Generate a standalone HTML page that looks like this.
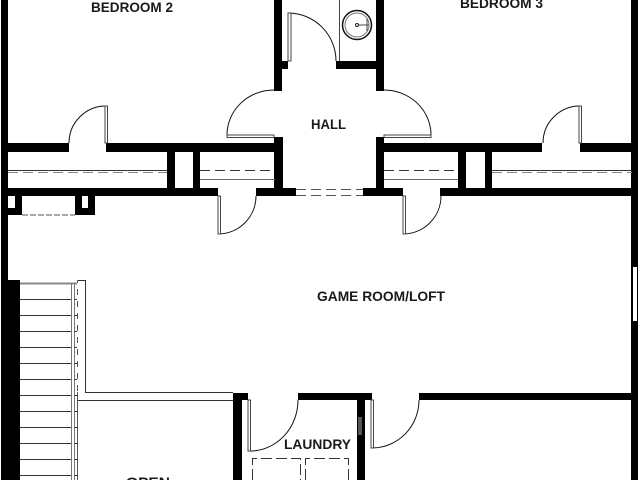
<!DOCTYPE html>
<html><head><meta charset="utf-8"><style>
html,body{margin:0;padding:0;background:#fff;width:640px;height:480px;overflow:hidden}
svg{display:block}
text{font-family:"Liberation Sans",sans-serif;font-weight:bold;fill:#1a1a1a;font-size:14px}
</style></head><body>
<svg width="640" height="480" viewBox="0 0 640 480" xmlns="http://www.w3.org/2000/svg">
<rect width="640" height="480" fill="#fff"/>
<g fill="#000">
<!-- outer walls -->
<rect x="1" y="0" width="7" height="281"/>
<rect x="1" y="280" width="19" height="200"/>
<rect x="631" y="0" width="7" height="480"/>
<!-- bedroom walls upper -->
<rect x="8" y="143" width="61" height="9"/>
<rect x="106" y="143" width="169" height="9"/>
<rect x="384" y="143" width="158" height="9"/>
<rect x="580" y="143" width="52" height="9"/>
<!-- lower corridor wall -->
<rect x="8" y="188" width="210" height="8"/>
<rect x="256" y="188" width="40" height="8"/>
<rect x="363" y="188" width="40" height="8"/>
<rect x="440" y="188" width="192" height="8"/>
<!-- hall walls -->
<rect x="274" y="137" width="9" height="52"/>
<rect x="376" y="137" width="8" height="52"/>
<rect x="274" y="0" width="8" height="91"/>
<rect x="280" y="61" width="8" height="8"/>
<rect x="376" y="0" width="8" height="91"/>
<rect x="336" y="61" width="48" height="8"/>
<!-- closet dividers -->
<rect x="167" y="143" width="8" height="53"/>
<rect x="193" y="143" width="7" height="53"/>
<rect x="458" y="143" width="8" height="53"/>
<rect x="485" y="143" width="7" height="53"/>
<!-- upper-left niche -->
<rect x="8" y="196" width="87" height="19"/>
<!-- laundry walls -->
<rect x="233" y="393" width="9" height="87"/>
<rect x="233" y="393" width="15" height="7"/>
<rect x="298" y="393" width="74" height="7"/>
<rect x="357" y="400" width="8" height="80"/>
<rect x="419" y="393" width="212" height="7"/>
</g>
<g fill="#fff">
<rect x="633" y="267" width="4" height="54"/>
<rect x="8" y="196" width="7" height="12"/>
<rect x="22" y="196" width="53" height="19"/>
<rect x="82" y="196" width="6" height="12"/>
</g>
<path d="M22 215H75" stroke="#555" stroke-width="1" stroke-dasharray="6 2" fill="none"/>
<rect x="358" y="417" width="4" height="18" fill="#555"/>
<!-- closet lines -->
<g stroke="#333" stroke-width="1" fill="none">
<path d="M8 170.500H167M492 170.500H632"/>
<path d="M200 179.500H275M384 179.500H458" stroke="#666"/>
<path d="M8 172.500H167M492 172.500H632" stroke="#888" stroke-dasharray="10 5"/>
<path d="M200 170.500H275M384 170.500H458" stroke-dasharray="10 5"/>
<path d="M296 189.500H363M296 195.500H363" stroke="#555" stroke-dasharray="10 5"/>
<path d="M339.500 0V61" stroke="#444"/>
</g>
<!-- doors -->
<g fill="none" stroke="#111" stroke-width="1">
<path d="M69 143A37 37 0 0 1 106 106"/>
<path d="M543 143A37 37 0 0 1 580 106"/>
<path d="M227 135A47 45 0 0 1 274 90"/>
<path d="M431 135A47 45 0 0 0 384 90"/>
<path d="M218 234A38 38 0 0 0 256 196"/>
<path d="M403 234A38 38 0 0 0 441 196"/>
<path d="M288 13A48 48 0 0 1 336 61"/>
<path d="M250 451A48 51 0 0 0 298 400"/>
<path d="M372 448A47 48 0 0 0 419 400"/>
</g>
<g fill="#fff" stroke="#444" stroke-width="1">
<rect x="105" y="106" width="2.500" height="37"/>
<rect x="579" y="106" width="2.500" height="37"/>
<rect x="227" y="135" width="47" height="2.500"/>
<rect x="384" y="135" width="47" height="2.500"/>
<rect x="218" y="196" width="2.500" height="38"/>
<rect x="403" y="196" width="2.500" height="38"/>
<rect x="288" y="13" width="3" height="48"/>
<rect x="248" y="400" width="2.500" height="51"/>
<rect x="371" y="400" width="2.500" height="48"/>
</g>
<!-- sink -->
<circle cx="357" cy="25" r="14.500" fill="#fff" stroke="#111" stroke-width="1.500"/>
<circle cx="357" cy="25" r="12" fill="none" stroke="#777" stroke-width="1"/>
<path d="M357 25H369M367 19V31" stroke="#444" stroke-width="1" fill="none"/>
<circle cx="357" cy="25" r="1.500" fill="#fff" stroke="#222" stroke-width="1"/>
<!-- stairs -->
<g stroke="#333" stroke-width="1" fill="none">
<path d="M20 299.500H72M20 315.500H72M20 331.500H72M20 347.500H72M20 363.500H72M20 379.500H72M20 395.500H72M20 411.500H72M20 427.500H72M20 443.500H72M20 459.500H72M20 475.500H72"/>
<path d="M20 283.500H77" stroke="#888" stroke-width="2"/>
<path d="M71.500 283V480M74.500 283V480" stroke="#777"/>
<path d="M74.500 299.500H77.500M74.500 315.500H77.500M74.500 331.500H77.500M74.500 347.500H77.500M74.500 363.500H77.500M74.500 379.500H77.500M74.500 395.500H77.500M74.500 411.500H77.500M74.500 427.500H77.500M74.500 443.500H77.500M74.500 459.500H77.500M74.500 475.500H77.500"/>
<path d="M77.500 280.500V480" stroke="#555"/>
<path d="M77.500 280.500H85.500V392.500H233M77.500 400.500H233"/>
</g>
<path d="M77.500 283V392M85 396.500H233" stroke="#fff" stroke-width="1" stroke-dasharray="6 6" fill="none"/>
<!-- laundry appliances -->
<g fill="none" stroke="#333" stroke-width="1" stroke-dasharray="11 4">
<path d="M252.500 480V458.500H300.500V480"/>
<path d="M305.500 480V458.500H348.500V480"/>
</g>
<!-- labels -->
<text x="91" y="12" textLength="82" lengthAdjust="spacingAndGlyphs">BEDROOM 2</text>
<text x="460" y="8" textLength="83" lengthAdjust="spacingAndGlyphs">BEDROOM 3</text>
<text x="311" y="129" textLength="35" lengthAdjust="spacingAndGlyphs">HALL</text>
<text x="317" y="301" textLength="128" lengthAdjust="spacingAndGlyphs">GAME ROOM/LOFT</text>
<text x="284" y="449" textLength="67" lengthAdjust="spacingAndGlyphs">LAUNDRY</text>
<text x="126" y="487" textLength="44" lengthAdjust="spacingAndGlyphs">OPEN</text>
</svg>
</body></html>
